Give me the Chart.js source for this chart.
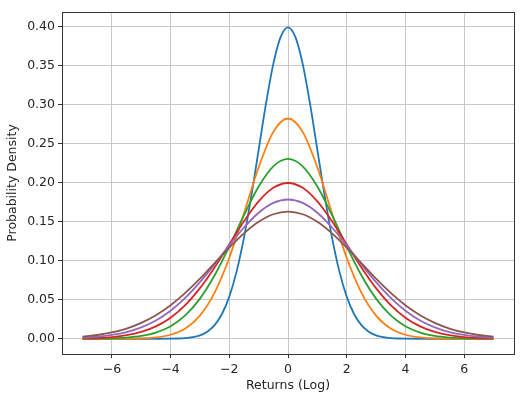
<!DOCTYPE html>
<html>
<head>
<meta charset="utf-8">
<style>
  html, body { margin: 0; padding: 0; background: #fff; }
  #chart { display: block; }
</style>
<script src="https://cdn.jsdelivr.net/npm/chart.js@4.4.0/dist/chart.umd.min.js"></script>
</head>
<body>
<canvas id="chart" width="532" height="400"></canvas>
<script>
// Sample positions along the x axis
const returns = [-7, -6.5, -6, -5.5, -5, -4.5, -4, -3.5, -3, -2.5, -2, -1.5, -1, -0.5, 0,
                 0.5, 1, 1.5, 2, 2.5, 3, 3.5, 4, 4.5, 5, 5.5, 6, 6.5, 7];
// the narrow blue curve is read at a finer step
const returnsFine = [-7, -6, -5, -4.5, -4, -3.75, -3.5, -3.25, -3, -2.75, -2.5, -2.25, -2, -1.75, -1.5, -1.25, -1, -0.75, -0.5, -0.25, 0,
                     0.25, 0.5, 0.75, 1, 1.25, 1.5, 1.75, 2, 2.25, 2.5, 2.75, 3, 3.25, 3.5, 3.75, 4, 4.5, 5, 6, 7];

// Density (narrowest to widest)
const curveBlue = [0, 0, 0.0000015, 0.000016, 0.000134, 0.000353, 0.000873, 0.00203, 0.00443, 0.00909, 0.0175, 0.0317, 0.0540, 0.0863, 0.1295, 0.1826, 0.2420, 0.3011, 0.3521, 0.3867, 0.3989,
                   0.3867, 0.3521, 0.3011, 0.2420, 0.1826, 0.1295, 0.0863, 0.0540, 0.0317, 0.0175, 0.00909, 0.00443, 0.00203, 0.000873, 0.000353, 0.000134, 0.000016, 0.0000015, 0, 0];
const curveOrange = [0.0000014, 0.0000073, 0.0000348, 0.000147, 0.000544, 0.00179, 0.00517, 0.0132, 0.0297, 0.0591, 0.1038, 0.1607, 0.2197, 0.2650, 0.2821,
                     0.2650, 0.2197, 0.1607, 0.1038, 0.0591, 0.0297, 0.0132, 0.00517, 0.00179, 0.000544, 0.000147, 0.0000348, 0.0000073, 0.0000014];
const curveGreen = [0.0000654, 0.000202, 0.000571, 0.00149, 0.00357, 0.00788, 0.0160, 0.0299, 0.0514, 0.0813, 0.1183, 0.1583, 0.1950, 0.2209, 0.2303,
                    0.2209, 0.1950, 0.1583, 0.1183, 0.0813, 0.0514, 0.0299, 0.0160, 0.00788, 0.00357, 0.00149, 0.000571, 0.000202, 0.0000654];
const curveRed = [0.000436, 0.00101, 0.00222, 0.00455, 0.00876, 0.0159, 0.0270, 0.0431, 0.0648, 0.0913, 0.1210, 0.1506, 0.1760, 0.1933, 0.1995,
                  0.1933, 0.1760, 0.1506, 0.1210, 0.0913, 0.0648, 0.0431, 0.0270, 0.0159, 0.00876, 0.00455, 0.00222, 0.00101, 0.000436];
const curvePurple = [0.00133, 0.00261, 0.00487, 0.00866, 0.0146, 0.0235, 0.0360, 0.0524, 0.0725, 0.0955, 0.1196, 0.1425, 0.1614, 0.1740, 0.1784,
                     0.1740, 0.1614, 0.1425, 0.1196, 0.0955, 0.0725, 0.0524, 0.0360, 0.0235, 0.0146, 0.00866, 0.00487, 0.00261, 0.00133];
const curveBrown = [0.00274, 0.00482, 0.00811, 0.0131, 0.0203, 0.0301, 0.0429, 0.0587, 0.0769, 0.0968, 0.1167, 0.1350, 0.1498, 0.1595, 0.1629,
                    0.1595, 0.1498, 0.1350, 0.1167, 0.0968, 0.0769, 0.0587, 0.0429, 0.0301, 0.0203, 0.0131, 0.00811, 0.00482, 0.00274];

const xTicks = [-6, -4, -2, 0, 2, 4, 6];
const yTicks = [0, 0.05, 0.10, 0.15, 0.20, 0.25, 0.30, 0.35, 0.40];

const series = [
    { xs: returnsFine, ys: curveBlue, color: '#1f77b4' },
    { xs: returns, ys: curveOrange, color: '#ff7f0e' },
    { xs: returns, ys: curveGreen, color: '#2ca02c' },
    { xs: returns, ys: curveRed, color: '#d62728' },
    { xs: returns, ys: curvePurple, color: '#9467bd' },
    { xs: returns, ys: curveBrown, color: '#8c564b' }
];

const FONT = 'DejaVu Sans';
const TEXT = '#262626';
const FSIZE = 12.5;

// box around the plot, like matplotlib spines
const frameBox = {
    id: 'frameBox',
    afterDraw(chart) {
        const { ctx, chartArea: a } = chart;
        ctx.save();
        ctx.strokeStyle = '#333';
        ctx.lineWidth = 1;
        ctx.strokeRect(Math.round(a.left) + 0.5, Math.round(a.top) + 0.5,
                       Math.round(a.right - a.left), Math.round(a.bottom - a.top));
        ctx.restore();
    }
};

const datasets = series.map((s, i) => ({
    data: s.ys.map((v, j) => ({ x: s.xs[j], y: v })),
    borderColor: s.color,
    borderWidth: 1.8,
    pointRadius: 0,
    fill: false,
    cubicInterpolationMode: 'monotone',
    order: series.length - i   // later curves sit on top
}));

new Chart(document.getElementById('chart'), {
    type: 'line',
    data: { datasets },
    plugins: [frameBox],
    options: {
        responsive: false,
        animation: false,
        devicePixelRatio: 1,
        layout: { padding: { top: 12, right: 18, left: 5, bottom: 0 } },
        plugins: { legend: { display: false }, tooltip: { enabled: false } },
        scales: {
            x: {
                type: 'linear',
                min: -7.7,
                max: 7.7,
                afterBuildTicks: s => { s.ticks = xTicks.map(v => ({ value: v })); },
                afterFit: s => { s.height = 46; },
                grid: { color: '#c8c8c8', lineWidth: 1, tickLength: 4, tickColor: '#333' },
                border: { display: false },
                ticks: {
                    padding: 4,
                    color: TEXT,
                    font: { family: FONT, size: FSIZE },
                    maxRotation: 0,
                    callback: v => String(v).replace('-', '\u2212')
                },
                title: {
                    display: true,
                    text: 'Returns (Log)',
                    color: TEXT,
                    font: { family: FONT, size: FSIZE },
                    padding: { top: 0, bottom: 7 }
                }
            },
            y: {
                min: -0.0195,
                max: 0.4185,
                afterBuildTicks: s => { s.ticks = yTicks.map(v => ({ value: v })); },
                afterFit: s => { s.width = 57; },
                grid: { color: '#c8c8c8', lineWidth: 1, tickLength: 4, tickColor: '#333' },
                border: { display: false },
                ticks: {
                    padding: 3,
                    color: TEXT,
                    font: { family: FONT, size: FSIZE },
                    callback: v => v.toFixed(2)
                },
                title: {
                    display: true,
                    text: 'Probability Density',
                    color: TEXT,
                    font: { family: FONT, size: FSIZE },
                    padding: { top: 0, bottom: 0 }
                }
            }
        }
    }
});
</script>
</body>
</html>
